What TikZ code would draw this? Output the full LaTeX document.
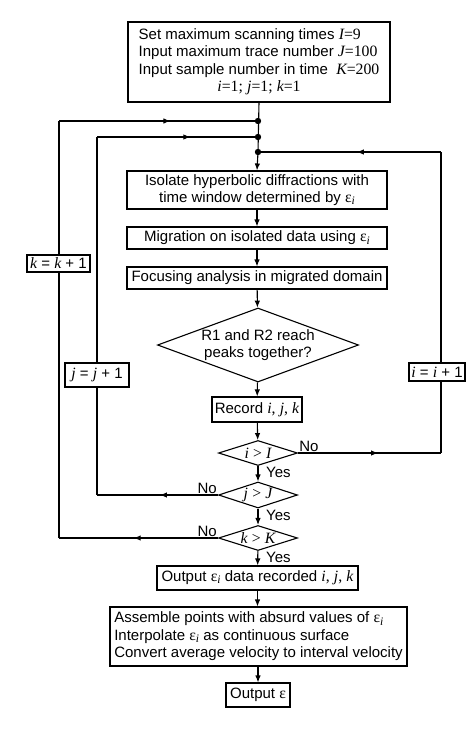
\documentclass[tikz,border=0pt]{standalone}
\usepackage{fontspec}
\setmainfont{Liberation Sans}
\newfontfamily\tnr[Scale=1.05]{Liberation Serif}
\usepackage{tikz}
\usetikzlibrary{shapes,arrows,positioning,calc,decorations.markings,arrows.meta}

\newcommand{\vi}[1]{{\tnr\itshape #1}}
\newcommand{\vn}[1]{{\tnr #1}}
\newcommand{\epsi}{{\tnr ε\raisebox{-0.3ex}{\fontsize{11}{11}\selectfont\itshape i}}}

\tikzset{
    box/.style={draw, line width=1.1pt, inner sep=2pt, align=center},
    dia/.style={draw, line width=1.1pt, diamond, inner sep=0pt, align=center},
    flow/.style={line width=1.1pt, -{Latex[length=7pt,width=5.5pt]}},
    loopline/.style={line width=1.1pt},
    midarrow/.style={postaction={decorate},
        decoration={markings, mark=at position #1 with {\arrow{Latex[length=7pt,width=5.5pt]}}}},
    lbl/.style={inner sep=1pt}
}

\begin{document}
\begin{tikzpicture}[x=1pt, y=-1pt, font=\fontsize{15}{17.5}\selectfont]
    \useasboundingbox (0,0) rectangle (474,733);

    % start
    \node[box, minimum width=262pt, minimum height=80pt] (start) at (259,62)
        {\begin{tabular}{@{}l@{}}
         Set maximum scanning times \vi{I}\vn{=9}\\
         Input maximum trace number \vi{J}\vn{=100}\\
         Input sample number in time \ \vi{K}\vn{=200}\\
         \multicolumn{1}{@{}c@{}}{\vi{i}\vn{=1;} \vi{j}\vn{=1;} \vi{k}\vn{=1}}
         \end{tabular}};

    % junctions
    \coordinate (jk) at (258,121);
    \coordinate (jj) at (258,137);
    \coordinate (ji) at (258,152);
    \foreach \p in {jk,jj,ji}
        \fill (\p) circle (3.2pt);

    % steps
    \node[box, minimum width=260pt, minimum height=38pt] (isolate) at (257,190)
        {Isolate hyperbolic diffractions with\\ time window determined by \epsi};
    \node[box, minimum width=260pt, minimum height=22pt] (migrate) at (257,238)
        {Migration on isolated data using \epsi};
    \node[box, minimum width=260pt, minimum height=22pt] (focus) at (257,278)
        {Focusing analysis in migrated domain};
    \node[dia, aspect=2.7, minimum width=201pt, minimum height=74pt] (peaks) at (258,345)
        {R1 and R2 reach\\ peaks together?};
    \node[box, minimum width=90pt, minimum height=25pt] (record) at (257,409.5)
        {Record \vi{i}\vn{,} \vi{j}\vn{,} \vi{k}};
    \node[dia, aspect=3.1, minimum width=79pt, minimum height=25pt] (ci) at (258,453)
        {\vi{i} \vn{>} \vi{I}};
    \node[dia, aspect=3.1, minimum width=79pt, minimum height=26pt] (cj) at (258,495)
        {\vi{j} \vn{>} \vi{J}};
    \node[dia, aspect=3.1, minimum width=79pt, minimum height=25pt] (ck) at (258,538)
        {\vi{k} \vn{>} \vi{K}};
    \node[box, minimum width=201pt, minimum height=24pt] (out) at (257.5,578)
        {Output \epsi\ data recorded \vi{i}\vn{,} \vi{j}\vn{,} \vi{k}};
    \node[box, minimum width=297pt, minimum height=59pt, align=left] (assemble) at (258.5,636.5)
        {Assemble points with absurd values of \epsi\\
         Interpolate \epsi\ as continuous surface\\
         Convert average velocity to interval velocity};
    \node[box, minimum width=64pt, minimum height=24pt] (final) at (258,695)
        {Output \vn{ε}};

    % main line
    \draw[loopline] (start.south) -- (ji);
    \draw[flow] (ji) -- (isolate.north);
    \draw[flow] (isolate) -- (migrate);
    \draw[flow] (migrate) -- (focus);
    \draw[flow] (focus) -- (peaks);
    \draw[flow] (peaks) -- (record);
    \draw[flow] (record) -- (ci);
    \draw[flow] (ci) -- (cj);
    \draw[flow] (cj) -- (ck);
    \draw[flow] (ck) -- (out);
    \draw[flow] (out) -- (assemble.north -| out.south);
    \draw[flow] (assemble.south -| final.north) -- (final);

    % loops
    \coordinate (ibot) at (441,453);
    \coordinate (itop) at (441,152);
    \coordinate (jbot) at (97,495);
    \coordinate (jtop) at (97,137);
    \coordinate (kbot) at (59,538);
    \coordinate (ktop) at (59,121);
    \draw[loopline, midarrow=0.56] (ci.east) -- (ibot);
    \draw[loopline] (ibot) -- (itop);
    \draw[loopline, midarrow=0.46] (itop) -- (ji);
    \draw[loopline, midarrow=0.48] (cj.west) -- (jbot);
    \draw[loopline] (jbot) -- (jtop);
    \draw[loopline, midarrow=0.58] (jtop) -- (jj);
    \draw[loopline, midarrow=0.53] (ck.west) -- (kbot);
    \draw[loopline] (kbot) -- (ktop);
    \draw[loopline, midarrow=0.56] (ktop) -- (jk);

    % counters
    \node[box, fill=white, minimum width=56pt, minimum height=18pt] (iinc) at (437,372)
        {\vi{i} = \vi{i} + 1};
    \node[box, fill=white, minimum width=64pt, minimum height=24pt] (jinc) at (97,375)
        {\vi{j} = \vi{j} + 1};
    \node[box, fill=white, minimum width=63pt, minimum height=17pt] (kinc) at (58.5,263.5)
        {\vi{k} = \vi{k} + 1};

    % labels
    \node[lbl, anchor=south west] (noi) at (ci.east) {No};
    \node[lbl, anchor=south east] (noj) at (cj.west) {No};
    \node[lbl, anchor=south east] (nok) at (ck.west) {No};
    \node[lbl, anchor=north west] (yesi) at ($(ci.south)+(7,0)$) {Yes};
    \node[lbl, anchor=north west] (yesj) at ($(cj.south)+(7,0)$) {Yes};
    \node[lbl, anchor=north west] (yesk) at ($(ck.south)+(7,0)$) {Yes};
\end{tikzpicture}
\end{document}
